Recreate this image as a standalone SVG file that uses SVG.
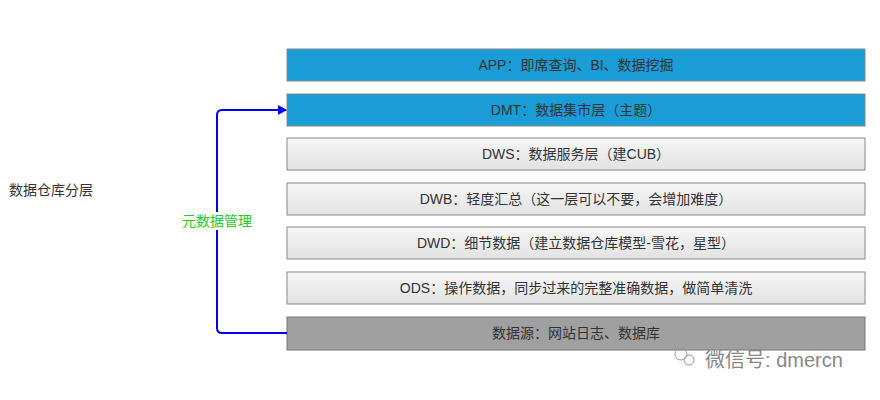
<svg xmlns="http://www.w3.org/2000/svg" width="880" height="400" viewBox="0 0 880 400">
<defs>
<linearGradient id="g" x1="0" y1="0" x2="0" y2="1"><stop offset="0" stop-color="#f6f6f6"/><stop offset="1" stop-color="#e2e2e2"/></linearGradient>
<marker id="ar" markerWidth="10" markerHeight="10" refX="8" refY="5" orient="auto" markerUnits="userSpaceOnUse"><path d="M0,0 L9,5 L0,10 Z" fill="#0000ee"/></marker>
</defs>
<style>
text{font-family:"Liberation Sans","Noto Sans CJK SC",sans-serif;font-size:14px;fill:#333;text-anchor:middle;dominant-baseline:central}
.b{fill:#1a9cd6;stroke:#888;stroke-width:1}
.l{fill:url(#g);stroke:#888;stroke-width:1}
.d{fill:#a0a0a0;stroke:#777;stroke-width:1}
</style>
<rect width="880" height="400" fill="#fff"/>
<g id="title"><text x="51" y="190">数据仓库分层</text></g>
<g id="app"><rect class="b" x="287" y="49" width="578" height="32"/><text x="576" y="65">APP：即席查询、BI、数据挖掘</text></g>
<g id="dmt"><rect class="b" x="287" y="94" width="578" height="32"/><text x="576" y="110">DMT：数据集市层（主题）</text></g>
<g id="dws"><rect class="l" x="287" y="138" width="578" height="32"/><text x="576" y="154">DWS：数据服务层（建CUB）</text></g>
<g id="dwb"><rect class="l" x="287" y="183" width="578" height="32"/><text x="576" y="199">DWB：轻度汇总（这一层可以不要，会增加难度）</text></g>
<g id="dwd"><rect class="l" x="287" y="227" width="578" height="32"/><text x="576" y="243">DWD：细节数据（建立数据仓库模型-雪花，星型）</text></g>
<g id="ods"><rect class="l" x="287" y="272" width="578" height="32"/><text x="576" y="288">ODS：操作数据，同步过来的完整准确数据，做简单清洗</text></g>
<g id="src"><rect class="d" x="287" y="317" width="578" height="33"/><text x="576" y="333">数据源：网站日志、数据库</text></g>
<g id="connectors"><path d="M287,333 H222 Q217,333 217,328 V115 Q217,110 222,110 H286" fill="none" stroke="#0000ee" stroke-width="2" marker-end="url(#ar)"/></g>
<g id="label"><rect x="178" y="212" width="78" height="18" fill="#fff"/><text x="217" y="221" style="fill:#22cc22">元数据管理</text></g>
<g id="wm"><circle cx="681" cy="354" r="6" fill="none" stroke="#999"/><circle cx="689" cy="360" r="5" fill="none" stroke="#999"/><text x="774" y="360" style="fill:#888;font-size:20px">微信号: dmercn</text></g>
</svg>
